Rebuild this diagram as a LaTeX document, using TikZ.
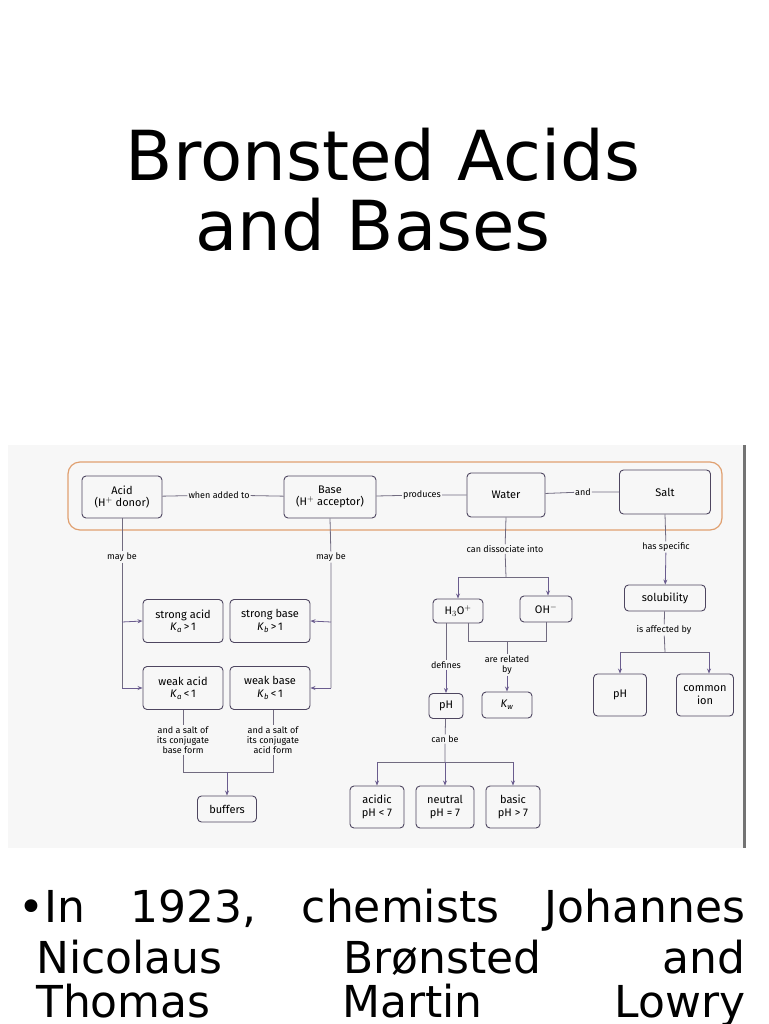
\documentclass[tikz,border=0pt]{standalone}
\usepackage{fontspec}
\setmainfont{DejaVu Sans}
\newfontfamily\dfont{Fira Sans}
\usetikzlibrary{arrows.meta}
\definecolor{bx}{HTML}{4E4660}
\definecolor{ar}{HTML}{6A5C8E}
\definecolor{org}{HTML}{E0A070}
\newcommand{\Kx}[1]{\textit{K}\textsubscript{\itshape #1}}
\begin{document}
\begin{tikzpicture}[x=1pt,y=-1pt,
  box/.style={draw=bx,line width=0.9pt,rounded corners=4pt,align=center,font=\dfont\fontsize{11}{12.5}\selectfont,inner sep=2pt},
  lab/.style={align=center,font=\dfont\fontsize{9}{10}\selectfont,fill=black!3,inner sep=1pt},
  ln/.style={draw=bx!80,line width=0.8pt},
  arr/.style={ln,-{Stealth[length=5pt,width=4pt]},draw=ar},
  big/.style={inner sep=0,font=\fontsize{44}{47}\selectfont}]
\clip (0,0) rectangle (768,1024);
\useasboundingbox (0,0) rectangle (768,1024);
\fill[white] (0,0) rectangle (768,1024);
\fill[black!3] (8,445) rectangle (745,848);
\fill[black!55] (743,445) rectangle (746,848);
\node (t1) at (383,155) {\fontsize{69}{76}\selectfont Bronsted Acids};
\node (t2) at (373,225) {\fontsize{69}{76}\selectfont and Bases};
\node[big,anchor=west] (b1) at (18,910) {\hbox to 727pt{•In\hfill 1923,\hfill chemists\hfill Johannes}};
\node[big,anchor=west] (b2) at (36,958) {\hbox to 709pt{Nicolaus\hfill Brønsted\hfill and}};
\node[big,anchor=west] (b3) at (36,1005) {\hbox to 709pt{Thomas\hfill Martin\hfill Lowry}};
% diagram
\draw[org,line width=1.2pt,rounded corners=12pt] (68,462) rectangle (722,530);
\node[box,minimum width=80,minimum height=42] (acid) at (122,497) {Acid\\(H$^{+}$ donor)};
\node[box,minimum width=92,minimum height=42] (base) at (330,497) {Base\\(H$^{+}$ acceptor)};
\node[box,minimum width=78,minimum height=44] (water) at (506,495) {Water};
\node[box,minimum width=91,minimum height=44] (salt) at (665,492) {Salt};
\node[lab] (l1) at (219,495) {when added to};
\node[lab] (l2) at (422,495) {produces};
\node[lab] (l3) at (583,492) {and};
\draw[ln] (acid) -- (l1) -- (base) -- (l2) -- (water) -- (l3) -- (salt);
\node[box,minimum width=80,minimum height=43] (sa) at (183,621) {strong acid\\\Kx{a}\,>\,1};
\node[box,minimum width=80,minimum height=43] (sb) at (270,621) {strong base\\\Kx{b}\,>\,1};
\node[box,minimum width=80,minimum height=43] (wa) at (183,688) {weak acid\\\Kx{a}\,<\,1};
\node[box,minimum width=80,minimum height=43] (wb) at (270,688) {weak base\\\Kx{b}\,<\,1};
\node[lab] (m1) at (122,557) {may be};
\node[lab] (m2) at (331,557) {may be};
\coordinate (ac1) at (122,622); \coordinate (ac2) at (122,688);
\coordinate (bc1) at (331,622); \coordinate (bc2) at (331,688);
\draw[ln] (acid.south) -- (m1) -- (ac2);
\draw[ln] (base.south) -- (m2) -- (bc2);
\draw[arr] (ac1) -- (sa.west);
\draw[arr] (ac2) -- (wa.west);
\draw[arr] (bc1) -- (sb.east);
\draw[arr] (bc2) -- (wb.east);
\node[lab] (s1) at (183,740) {and a salt of\\its conjugate\\base form};
\node[lab] (s2) at (273,740) {and a salt of\\its conjugate\\acid form};
\node[box,minimum width=59,minimum height=26] (buf) at (227,809) {buffers};
\coordinate (j1) at (183,772); \coordinate (j2) at (273,772); \coordinate (j3) at (227,772);
\draw[ln] (wa.south) -- (s1); \draw[ln] (wb.south -| s2) -- (s2);
\draw[ln] (s1.south) -- (j1) -- (j2) -- (s2.south);
\draw[arr] (j3) -- (buf.north);
% water branch
\node[lab] (cd) at (505,549) {can dissociate into};
\node[box,minimum width=50,minimum height=24] (h3o) at (458,611) {H$_3$O$^{+}$};
\node[box,minimum width=52,minimum height=26] (oh) at (546,609) {OH$^{-}$};
\coordinate (w1) at (506,577); \coordinate (w2) at (458,577); \coordinate (w3) at (548,577);
\draw[ln] (water.south) -- (cd) -- (w1);
\draw[ln] (w2) -- (w3);
\draw[arr] (w2) -- (h3o.north);
\draw[arr] (w3) -- (w3 |- oh.north);
\coordinate (k1) at (468,641); \coordinate (k2) at (546,641); \coordinate (k3) at (507,641);
\draw[ln] (h3o.south -| k1) -- (k1) -- (k2) -- (oh.south -| k2);
\node[lab] (rb) at (507,665) {are related\\by};
\node[box,minimum width=50,minimum height=26] (kw) at (507,705) {\Kx{w}};
\draw[ln] (k3) -- (rb);
\draw[arr] (rb) -- (kw);
\node[lab] (df) at (446,665) {defines};
\node[box,minimum width=34,minimum height=25] (ph) at (446,706) {pH};
\draw[ln] (h3o.south -| df) -- (df);
\draw[arr] (df) -- (ph);
\node[lab] (cb) at (445,739) {can be};
\coordinate (p1) at (377,762); \coordinate (p2) at (445,762); \coordinate (p3) at (513,762);
\draw[ln] (ph) -- (cb) -- (p2);
\draw[ln] (p1) -- (p3);
\node[box,minimum width=54,minimum height=42] (acd) at (377,807) {acidic\\pH < 7};
\node[box,minimum width=58,minimum height=42] (neu) at (445,807) {neutral\\pH = 7};
\node[box,minimum width=54,minimum height=42] (bas) at (513,807) {basic\\pH > 7};
\draw[arr] (p1) -- (acd.north); \draw[arr] (p2) -- (neu.north); \draw[arr] (p3) -- (bas.north);
% salt branch
\node[lab] (hs) at (666,547) {has specific};
\node[box,minimum width=81,minimum height=26] (sol) at (665,598) {solubility};
\draw[ln] (salt.south) -- (hs);
\draw[arr] (hs) -- (sol);
\node[lab] (ia) at (664,630) {is affected by};
\coordinate (q1) at (620,652); \coordinate (q2) at (665,652); \coordinate (q3) at (709,652);
\draw[ln] (sol) -- (ia) -- (q2);
\draw[ln] (q1) -- (q3);
\node[box,minimum width=53,minimum height=42] (ph2) at (620,695) {pH};
\node[box,minimum width=57,minimum height=42] (ci) at (705,695) {common\\ion};
\draw[arr] (q1) -- (ph2.north); \draw[arr] (q3) -- (q3 |- ci.north);
\end{tikzpicture}
\end{document}
